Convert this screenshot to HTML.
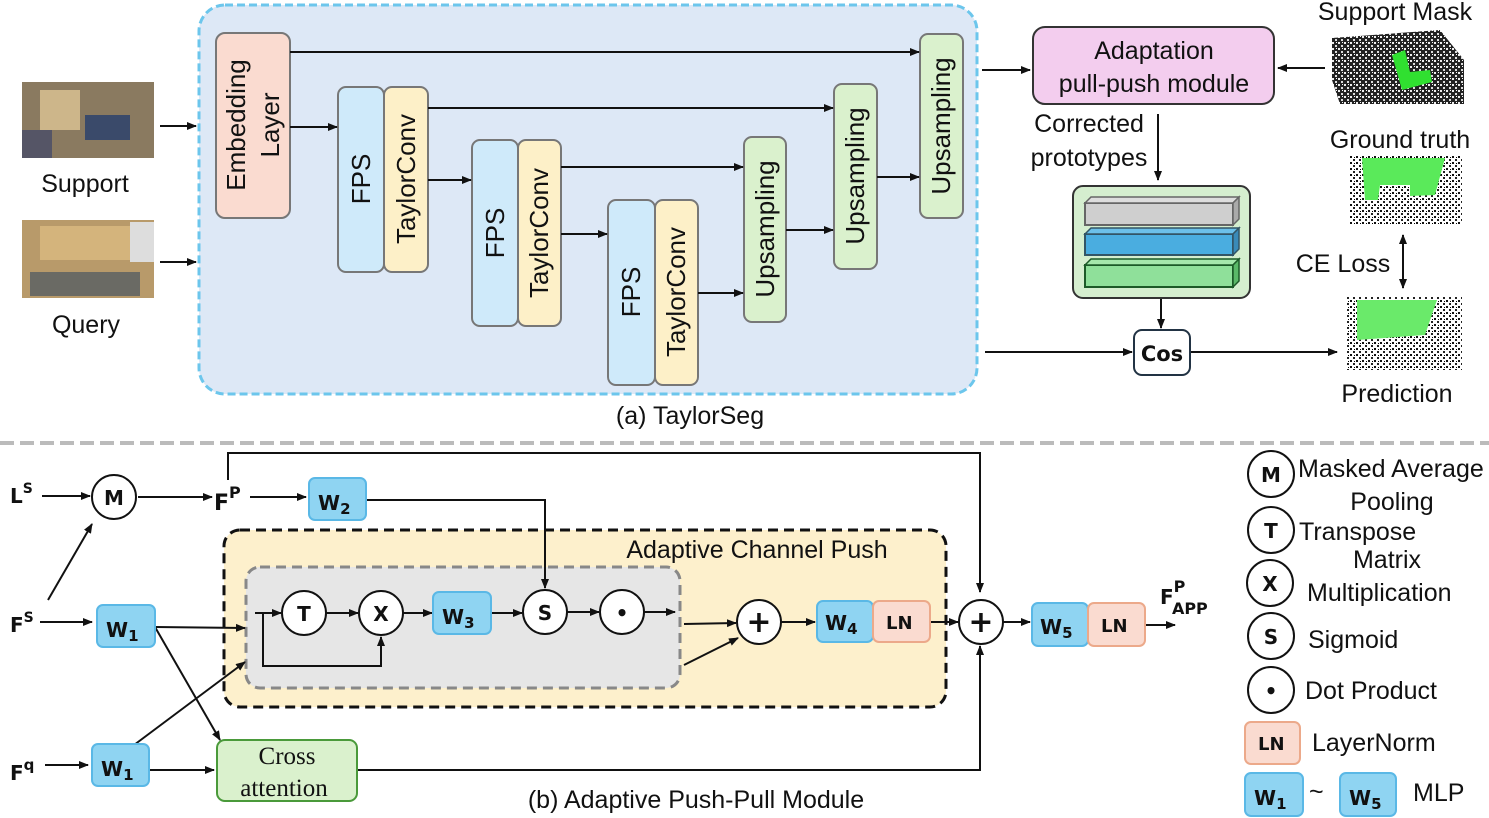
<!DOCTYPE html>
<html><head><meta charset="utf-8">
<style>
html,body{margin:0;padding:0;background:#fff;}
svg{display:block;}
text{font-family:"Liberation Sans Narrow","Liberation Sans",sans-serif;fill:#111;}
.hw{font-family:"DejaVu Sans","Liberation Sans",sans-serif;font-weight:bold;}
.ls{font-family:"Liberation Sans",sans-serif;}
.sf{font-family:"Liberation Serif",serif;}
</style></head><body>
<svg width="1489" height="818" viewBox="0 0 1489 818" xmlns="http://www.w3.org/2000/svg">
<defs>
<marker id="a" markerWidth="10" markerHeight="10" refX="9" refY="5" orient="auto" markerUnits="userSpaceOnUse">
<path d="M0,1 L10,5 L0,9 z" fill="#111"/></marker>
<pattern id="sp" width="6" height="6" patternUnits="userSpaceOnUse">
<rect width="6" height="6" fill="#222"/><rect x="0" y="0" width="2" height="2" fill="#eee"/><rect x="3" y="3" width="2" height="2" fill="#ddd"/><rect x="4" y="0" width="1" height="1" fill="#fff"/>
</pattern>
<pattern id="sp2" width="6" height="6" patternUnits="userSpaceOnUse">
<rect width="6" height="6" fill="#fff"/><rect x="0" y="0" width="2" height="2" fill="#111"/><rect x="3" y="3" width="2" height="2" fill="#222"/><rect x="4" y="1" width="1" height="1" fill="#000"/>
</pattern>
</defs>
<rect x="199" y="5" width="778" height="389" rx="26" fill="#dde8f6" stroke="#6cc6ec" stroke-width="3" stroke-dasharray="8,4"/>
<!-- images -->
<rect x="22" y="82" width="132" height="76" fill="#8a7a60"/>
<rect x="40" y="90" width="40" height="40" fill="#cdb68a"/><rect x="85" y="115" width="45" height="25" fill="#3a4a6a"/>
<rect x="22" y="130" width="30" height="28" fill="#556"/>
<rect x="22" y="220" width="132" height="78" fill="#b89a6a"/>
<rect x="30" y="272" width="110" height="24" fill="#6a6a64"/><rect x="40" y="226" width="90" height="34" fill="#d4b47c"/>
<rect x="130" y="222" width="24" height="40" fill="#ddd"/>
<text class="ls" x="85" y="192" font-size="25" text-anchor="middle">Support</text>
<text class="ls" x="86" y="333" font-size="25" text-anchor="middle">Query</text>
<g stroke="#111" stroke-width="2" fill="none" marker-end="url(#a)">
<line x1="160" y1="126" x2="196" y2="126"/>
<line x1="160" y1="262" x2="196" y2="262"/>
</g>
<g stroke="#777" stroke-width="2">
<rect x="216" y="33" width="74" height="185" rx="9" fill="#fadbd0"/>
<rect x="338" y="87" width="46" height="185" rx="8" fill="#cfeafa"/>
<rect x="384" y="87" width="44" height="185" rx="8" fill="#fdf0c8"/>
<rect x="472" y="140" width="46" height="186" rx="8" fill="#cfeafa"/>
<rect x="518" y="140" width="43" height="186" rx="8" fill="#fdf0c8"/>
<rect x="608" y="200" width="47" height="185" rx="8" fill="#cfeafa"/>
<rect x="655" y="200" width="43" height="185" rx="8" fill="#fdf0c8"/>
<rect x="744" y="137" width="42" height="185" rx="8" fill="#daf1cd"/>
<rect x="834" y="84" width="43" height="185" rx="8" fill="#daf1cd"/>
<rect x="920" y="34" width="43" height="184" rx="8" fill="#daf1cd"/>
</g>
<g font-size="26" text-anchor="middle" class="ls">
<text class="ls" transform="translate(245,125) rotate(-90)">Embedding</text>
<text class="ls" transform="translate(279,125) rotate(-90)">Layer</text>
<text class="ls" transform="translate(370,179) rotate(-90)">FPS</text>
<text class="ls" transform="translate(415,179) rotate(-90)">TaylorConv</text>
<text class="ls" transform="translate(504,233) rotate(-90)">FPS</text>
<text class="ls" transform="translate(548,233) rotate(-90)">TaylorConv</text>
<text class="ls" transform="translate(640,292) rotate(-90)">FPS</text>
<text class="ls" transform="translate(685,292) rotate(-90)">TaylorConv</text>
<text class="ls" transform="translate(774,229) rotate(-90)">Upsampling</text>
<text class="ls" transform="translate(864,176) rotate(-90)">Upsampling</text>
<text class="ls" transform="translate(950,126) rotate(-90)">Upsampling</text>
</g>
<g stroke="#111" stroke-width="2" fill="none" marker-end="url(#a)">
<line x1="290" y1="52" x2="919" y2="52"/>
<line x1="290" y1="127" x2="337" y2="127"/>
<line x1="428" y1="180" x2="471" y2="180"/>
<line x1="561" y1="234" x2="607" y2="234"/>
<line x1="698" y1="293" x2="743" y2="293"/>
<line x1="428" y1="108" x2="833" y2="108"/>
<line x1="561" y1="167" x2="743" y2="167"/>
<line x1="786" y1="230" x2="833" y2="230"/>
<line x1="877" y1="177" x2="919" y2="177"/>
<line x1="982" y1="70" x2="1030" y2="70"/>
<line x1="1325" y1="68" x2="1278" y2="68"/>
<line x1="1158" y1="114" x2="1158" y2="180"/>
<line x1="1161" y1="298" x2="1161" y2="328"/>
<line x1="985" y1="352" x2="1132" y2="352"/>
<line x1="1190" y1="352" x2="1337" y2="352"/>
<line x1="1403" y1="262" x2="1403" y2="288"/>
<line x1="1403" y1="262" x2="1403" y2="235"/>
</g>
<text class="ls" x="690" y="424" font-size="25" text-anchor="middle">(a) TaylorSeg</text>
<rect x="1033" y="27" width="241" height="77" rx="12" fill="#f3cdee" stroke="#333" stroke-width="2"/>
<text class="ls" x="1154" y="59" font-size="25" text-anchor="middle">Adaptation</text>
<text class="ls" x="1154" y="92" font-size="25" text-anchor="middle">pull-push module</text>
<text class="ls" x="1089" y="132" font-size="25" text-anchor="middle">Corrected</text>
<text class="ls" x="1089" y="166" font-size="25" text-anchor="middle">prototypes</text>
<rect x="1073" y="186" width="177" height="112" rx="10" fill="#d5eecf" stroke="#333" stroke-width="2"/>
<rect x="1085" y="203" width="148" height="22" fill="#cfcfcf" stroke="#666" stroke-width="2"/>
<polygon points="1085,203 1091,197 1239,197 1233,203" fill="#ddd" stroke="#666" stroke-width="1.5"/>
<polygon points="1233,203 1239,197 1239,219 1233,225" fill="#aaa" stroke="#666" stroke-width="1.5"/>
<rect x="1085" y="234" width="148" height="21" fill="#4aade0" stroke="#356" stroke-width="2"/>
<polygon points="1085,234 1091,228 1239,228 1233,234" fill="#6cc0ea" stroke="#356" stroke-width="1.5"/>
<polygon points="1233,234 1239,228 1239,249 1233,255" fill="#3a8ab8" stroke="#356" stroke-width="1.5"/>
<rect x="1085" y="265" width="148" height="22" fill="#8fe09a" stroke="#1d5a28" stroke-width="2"/>
<polygon points="1085,265 1091,259 1239,259 1233,265" fill="#a5e8ac" stroke="#1d5a28" stroke-width="1.5"/>
<polygon points="1233,265 1239,259 1239,281 1233,287" fill="#5ab868" stroke="#1d5a28" stroke-width="1.5"/>
<rect x="1134" y="330" width="56" height="45" rx="8" fill="#fff" stroke="#234" stroke-width="2"/>
<text x="1162" y="361" font-size="21" text-anchor="middle" class="hw">Cos</text>
<text class="ls" x="1395" y="20" font-size="25" text-anchor="middle">Support Mask</text>
<polygon points="1332,38 1440,30 1464,60 1464,104 1340,104 1332,80" fill="url(#sp)"/>
<polygon points="1392,55 1405,50 1410,72 1430,70 1432,82 1402,90" fill="#30e030"/>
<text class="ls" x="1400" y="148" font-size="25" text-anchor="middle">Ground truth</text>
<rect x="1350" y="155" width="112" height="70" fill="url(#sp2)"/>
<polygon points="1362,158 1445,158 1435,195 1410,196 1410,185 1380,185 1378,200 1365,200" fill="#5aea5a"/>
<text class="ls" x="1343" y="272" font-size="25" text-anchor="middle">CE Loss</text>
<rect x="1347" y="297" width="115" height="73" fill="url(#sp2)"/>
<polygon points="1357,300 1437,300 1425,335 1357,340" fill="#6aea6a"/>
<text class="ls" x="1397" y="402" font-size="25" text-anchor="middle">Prediction</text>
<line x1="0" y1="443" x2="1489" y2="443" stroke="#bbb" stroke-width="4" stroke-dasharray="14,6"/>
<rect x="224" y="530" width="722" height="177" rx="16" fill="#fdf0cc" stroke="#111" stroke-width="3" stroke-dasharray="10,6"/>
<rect x="246" y="567" width="434" height="121" rx="14" fill="#e6e6e6" stroke="#888" stroke-width="3" stroke-dasharray="10,6"/>
<text x="757" y="558" font-size="25" text-anchor="middle">Adaptive Channel Push</text>
<g stroke="#111" stroke-width="2" fill="none">
<polyline points="228,480 228,453 980,453 980,592" marker-end="url(#a)"/>
<polyline points="366,500 545,500 545,588" marker-end="url(#a)"/>
<polyline points="357,770 980,770 980,646" marker-end="url(#a)"/>
<polyline points="263,613 263,666 381,666 381,637" marker-end="url(#a)"/>
</g>
<g stroke="#111" stroke-width="2" fill="none" marker-end="url(#a)">
<line x1="42" y1="496" x2="90" y2="496"/>
<line x1="138" y1="497" x2="212" y2="497"/>
<line x1="250" y1="497" x2="306" y2="497"/>
<line x1="48" y1="600" x2="92" y2="524"/>
<line x1="40" y1="622" x2="92" y2="622"/>
<line x1="155" y1="627" x2="245" y2="628"/>
<line x1="155" y1="627" x2="220" y2="740"/>
<line x1="45" y1="765" x2="88" y2="765"/>
<line x1="149" y1="770" x2="214" y2="770"/>
<line x1="134" y1="745" x2="245" y2="662"/>
<line x1="255" y1="613" x2="281" y2="613"/>
<line x1="326" y1="613" x2="358" y2="613"/>
<line x1="403" y1="613" x2="432" y2="613"/>
<line x1="491" y1="613" x2="522" y2="613"/>
<line x1="567" y1="612" x2="599" y2="612"/>
<line x1="644" y1="612" x2="675" y2="612"/>
<line x1="684" y1="624" x2="736" y2="623"/>
<line x1="684" y1="665" x2="738" y2="638"/>
<line x1="781" y1="622" x2="815" y2="622"/>
<line x1="930" y1="622" x2="958" y2="622"/>
<line x1="1003" y1="622" x2="1030" y2="622"/>
<line x1="1145" y1="625" x2="1175" y2="625"/>
</g>
<g stroke="#111" stroke-width="2" fill="#fff">
<circle cx="114" cy="497" r="22"/>
<circle cx="304" cy="613" r="22"/>
<circle cx="381" cy="613" r="22"/>
<circle cx="545" cy="612" r="22"/>
<circle cx="622" cy="612" r="22"/>
<circle cx="759" cy="622" r="22"/>
<circle cx="981" cy="622" r="22"/>
<circle cx="1271" cy="474" r="23"/>
<circle cx="1271" cy="530" r="23"/>
<circle cx="1270" cy="583" r="23"/>
<circle cx="1271" cy="636" r="23"/>
<circle cx="1271" cy="690" r="23"/>
</g>
<g class="hw" text-anchor="middle" font-size="20">
<text class="hw" x="114" y="505">M</text><text class="hw" x="304" y="621">T</text><text class="hw" x="381" y="621">X</text>
<text class="hw" x="545" y="620">S</text><text class="hw" x="622" y="620">•</text>
<text class="hw" x="759" y="632" font-size="30">+</text><text class="hw" x="981" y="632" font-size="30">+</text>
<text class="hw" x="1271" y="482">M</text><text class="hw" x="1271" y="538">T</text><text class="hw" x="1270" y="591">X</text>
<text class="hw" x="1271" y="644">S</text><text class="hw" x="1271" y="698">•</text>
</g>
<g stroke-width="2">
<rect x="309" y="478" width="57" height="42" rx="6" fill="#8fd4f2" stroke="#5ab8e6"/>
<rect x="97" y="605" width="58" height="42" rx="6" fill="#8fd4f2" stroke="#5ab8e6"/>
<rect x="92" y="744" width="57" height="42" rx="6" fill="#8fd4f2" stroke="#5ab8e6"/>
<rect x="433" y="592" width="58" height="42" rx="6" fill="#8fd4f2" stroke="#5ab8e6"/>
<rect x="817" y="601" width="56" height="41" rx="6" fill="#8fd4f2" stroke="#5ab8e6"/>
<rect x="873" y="601" width="57" height="41" rx="6" fill="#fadbd0" stroke="#eca98a"/>
<rect x="1032" y="603" width="56" height="43" rx="6" fill="#8fd4f2" stroke="#5ab8e6"/>
<rect x="1088" y="603" width="57" height="43" rx="6" fill="#fadbd0" stroke="#eca98a"/>
<rect x="1245" y="722" width="55" height="42" rx="6" fill="#fadbd0" stroke="#eca98a"/>
<rect x="1245" y="773" width="58" height="43" rx="6" fill="#8fd4f2" stroke="#5ab8e6"/>
<rect x="1340" y="773" width="56" height="43" rx="6" fill="#8fd4f2" stroke="#5ab8e6"/>
<rect x="217" y="740" width="140" height="61" rx="8" fill="#daf1cd" stroke="#4a9a3a"/>
</g>
<g font-size="20">
<text class="hw" x="318" y="510">W<tspan font-size="15" dy="4">2</tspan></text>
<text class="hw" x="106" y="637">W<tspan font-size="15" dy="4">1</tspan></text>
<text class="hw" x="101" y="776">W<tspan font-size="15" dy="4">1</tspan></text>
<text class="hw" x="442" y="624">W<tspan font-size="15" dy="4">3</tspan></text>
<text class="hw" x="825" y="630">W<tspan font-size="15" dy="4">4</tspan></text>
<text class="hw" x="886" y="629" font-size="18">LN</text>
<text class="hw" x="1040" y="634">W<tspan font-size="15" dy="4">5</tspan></text>
<text class="hw" x="1101" y="632" font-size="18">LN</text>
<text class="hw" x="1258" y="750" font-size="18">LN</text>
<text class="hw" x="1254" y="805">W<tspan font-size="15" dy="4">1</tspan></text>
<text class="hw" x="1349" y="805">W<tspan font-size="15" dy="4">5</tspan></text>
<text class="hw" x="10" y="503">L<tspan font-size="14" dy="-10">S</tspan></text>
<text class="hw" x="214" y="510" font-size="22">F<tspan font-size="16" dy="-12">P</tspan></text>
<text class="hw" x="10" y="632">F<tspan font-size="14" dy="-10">S</tspan></text>
<text class="hw" x="10" y="780">F<tspan font-size="15" dy="-10">q</tspan></text>
<text class="hw" x="1160" y="604">F<tspan font-size="16" dy="-12">P</tspan><tspan font-size="16" dx="-12" dy="22">APP</tspan></text>
</g>
<text class="sf" x="287" y="764" font-size="25" text-anchor="middle">Cross</text>
<text class="sf" x="284" y="796" font-size="25" text-anchor="middle">attention</text>
<text x="696" y="808" font-size="25" text-anchor="middle">(b) Adaptive Push-Pull Module</text>
<g font-size="25">
<text x="1298" y="477">Masked Average</text>
<text x="1392" y="510" text-anchor="middle">Pooling</text>
<text x="1299" y="540">Transpose</text>
<text x="1387" y="568" text-anchor="middle">Matrix</text>
<text x="1307" y="601">Multiplication</text>
<text x="1308" y="648">Sigmoid</text>
<text x="1305" y="699">Dot Product</text>
<text x="1312" y="751">LayerNorm</text>
<text x="1309" y="800">~</text>
<text x="1413" y="801">MLP</text>
</g>
</svg>
</body></html>
